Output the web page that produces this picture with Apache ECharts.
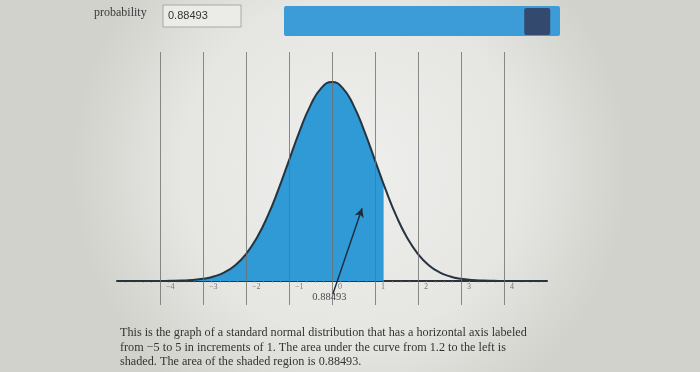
<!DOCTYPE html>
<html>
<head>
<meta charset="utf-8">
<script src="https://cdn.jsdelivr.net/npm/echarts@6/dist/echarts.min.js"></script>
<style>html,body{margin:0;padding:0;}#c{width:700px;height:372px;}</style>
</head>
<body>
<div id="c"></div>
<script>
// values
const curveX = [-5,-4.75,-4.5,-4.25,-4,-3.75,-3.5,-3.25,-3,-2.75,-2.5,-2.25,-2,-1.75,-1.5,-1.25,-1,-0.75,-0.5,-0.25,0,0.25,0.5,0.75,1,1.25,1.5,1.75,2,2.25,2.5,2.75,3,3.25,3.5,3.75,4,4.25,4.5,4.75,5];
const curveY = [0,0,0,0,0.0001,0.0004,0.0009,0.002,0.0044,0.0091,0.0175,0.0317,0.054,0.0863,0.1295,0.1826,0.242,0.3011,0.3521,0.3867,0.3989,0.3867,0.3521,0.3011,0.242,0.1826,0.1295,0.0863,0.054,0.0317,0.0175,0.0091,0.0044,0.002,0.0009,0.0004,0.0001,0,0,0,0];
const shadeX = [-5,-4.75,-4.5,-4.25,-4,-3.75,-3.5,-3.25,-3,-2.75,-2.5,-2.25,-2,-1.75,-1.5,-1.25,-1,-0.75,-0.5,-0.25,0,0.25,0.5,0.75,1,1.2];
const shadeY = [0,0,0,0,0.0001,0.0004,0.0009,0.002,0.0044,0.0091,0.0175,0.0317,0.054,0.0863,0.1295,0.1826,0.242,0.3011,0.3521,0.3867,0.3989,0.3867,0.3521,0.3011,0.242,0.1942];
const gridLinesX = [-4,-3,-2,-1,0,1,2,3,4];
const tickLabels = ['','−4','−3','−2','−1','0','1','2','3','4',''];
const probability = '0.88493';
const arrowFrom = [0.02, -0.026];
const arrowTo = [0.70, 0.146];
const labelPos = [-0.06, -0.032];
const sliderValue = 0.88493;
const description = [
  'This is the graph of a standard normal distribution that has a horizontal axis labeled',
  'from \u22125 to 5 in increments of 1. The area under the curve from 1.2 to the left is',
  'shaded. The area of the shaded region is 0.88493.'
];

const chart = echarts.init(document.getElementById('c'));
const serif = '"Liberation Serif","DejaVu Serif",serif';
const sx0 = 284, sx1 = 560;
const handleW = 26;
const handleX = sx0 + (sx1 - sx0) * sliderValue - handleW / 2 + 9;

chart.setOption({
  backgroundColor: {
    type: 'radial', x: 0.5, y: 0.45, r: 0.75,
    colorStops: [{offset: 0, color: '#eeeeec'}, {offset: 0.6, color: '#e6e6e3'}, {offset: 1, color: '#d2d2cc'}]
  },
  animation: false,
  grid: {left: 117, right: 153, top: 52, bottom: 67},
  xAxis: {
    type: 'value', min: -5, max: 5, interval: 1, offset: -24,
    axisLine: {onZero: false, lineStyle: {color: '#2e3236', width: 2}},
    axisTick: {show: false},
    minorTick: {show: true, splitNumber: 5, length: 2, lineStyle: {color: '#a5a5a5', width: 0.6}},
    splitLine: {show: false},
    axisLabel: {
      color: '#777', fontSize: 8, fontFamily: serif, align: 'left', margin: 2,
      padding: [0, 0, 0, 6],
      formatter: function (v) { return tickLabels[Math.round(v) + 5]; }
    }
  },
  yAxis: {
    type: 'value', min: -0.048, max: 0.459, show: false,
    splitLine: {show: false}
  },
  series: [
    {
      type: 'line', data: shadeX.map((x, i) => [x, shadeY[i]]),
      smooth: true, symbol: 'none', lineStyle: {width: 0},
      areaStyle: {color: '#2f9ad6', opacity: 1}, z: 2
    },
    {
      type: 'line', data: curveX.map((x, i) => [x, curveY[i]]),
      smooth: true, symbol: 'none', lineStyle: {color: '#26343f', width: 2}, z: 4,
      markLine: {
        silent: true, symbol: 'none', label: {show: false},
        lineStyle: {color: '#6e6e6e', width: 0.8, type: 'solid'},
        data: gridLinesX.map(x => ({xAxis: x}))
      }
    },
    {
      type: 'line', data: [], z: 5,
      markLine: {
        silent: true, symbol: ['none', 'arrow'], symbolSize: [7, 9],
        label: {show: false},
        lineStyle: {color: '#1e2a3a', width: 1.4, type: 'solid'},
        data: [[{coord: arrowFrom}, {coord: arrowTo}]]
      },
      markPoint: {
        symbol: 'rect', symbolSize: 1, itemStyle: {color: 'rgba(0,0,0,0)'},
        label: {show: true, formatter: probability, color: '#4a4a4a', fontSize: 10.5, fontFamily: serif, position: 'inside'},
        data: [{coord: labelPos}]
      }
    }
  ],
  graphic: [
    {type: 'text', left: 94, top: 7, style: {text: 'probability', font: '12px ' + serif, fill: '#3a3a3a'}},
    {type: 'rect', shape: {x: 163, y: 5, width: 78, height: 22}, style: {fill: '#ebebe8', stroke: '#a8a8a4', lineWidth: 1}},
    {type: 'text', left: 168, top: 10, style: {text: probability, font: '11px "Liberation Sans",Arial,sans-serif', fill: '#333'}},
    {type: 'rect', shape: {x: sx0, y: 6, width: sx1 - sx0, height: 30, r: 2}, style: {fill: '#3b9cd8'}},
    {type: 'rect', shape: {x: handleX, y: 8, width: handleW, height: 27, r: 2}, style: {fill: '#34496e'}},
    {type: 'text', left: 120, top: 326, style: {text: description.join('\n'), font: '12.2px ' + serif, fill: '#333', lineHeight: 14.5}}
  ]
});
</script>
</body>
</html>
